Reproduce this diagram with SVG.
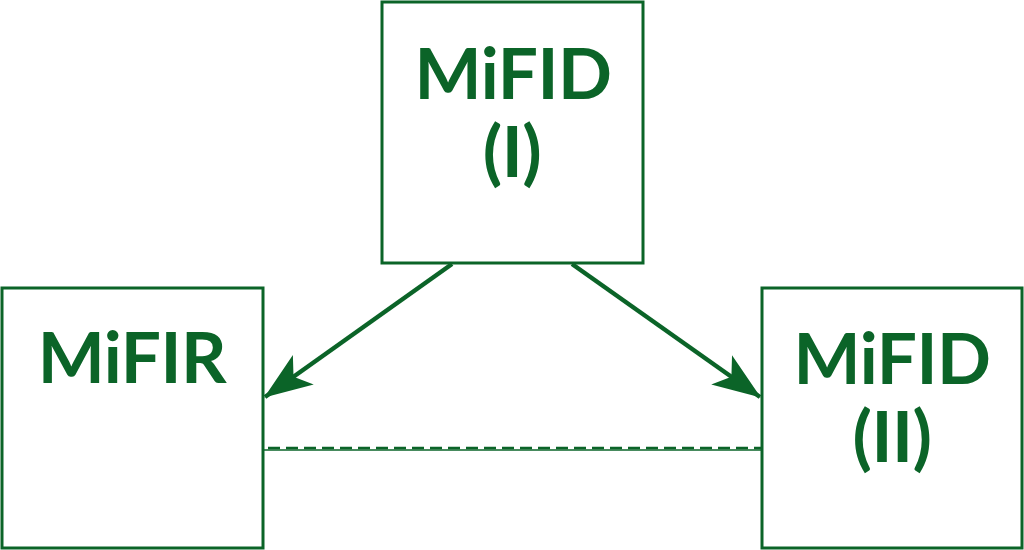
<svg xmlns="http://www.w3.org/2000/svg" width="1024" height="550" viewBox="0 0 1024 550">
<style>
.box{fill:#fff;stroke:#0b6428;stroke-width:3}
.t{font-family:Lato,"Open Sans",sans-serif;font-weight:bold;font-size:71px;fill:#0b6428;text-anchor:middle;letter-spacing:-0.5px}
.arr{stroke:#0b6428;stroke-width:4.5;fill:none}
</style>
<defs>
<marker id="ah" viewBox="0 0 48 36" refX="47" refY="18" markerWidth="48" markerHeight="36" markerUnits="userSpaceOnUse" orient="auto">
<path d="M0,0 L48,18 L0,36 L12,18 Z" fill="#0b6428"/>
</marker>
</defs>
<rect width="1024" height="550" fill="#fff"/>
<g id="mifid1"><rect class="box" x="382" y="2" width="261" height="261"/><text class="t" x="513" y="99">MiFID</text><text class="t" x="512" y="177">(I)</text></g>
<g id="mifir"><rect class="box" x="2" y="288" width="261" height="260"/><text class="t" x="132" y="383">MiFIR</text></g>
<g id="mifid2"><rect class="box" x="762" y="288" width="260" height="260"/><text class="t" x="892" y="384">MiFID</text><text class="t" x="892" y="462">(II)</text></g>
<g id="connectors">
<line class="arr" x1="452" y1="264" x2="265" y2="397" marker-end="url(#ah)"/>
<line class="arr" x1="572" y1="264" x2="760" y2="397" marker-end="url(#ah)"/>
<line x1="264" y1="450" x2="761" y2="450" stroke="#0b6428" stroke-width="1.5"/>
<line x1="268" y1="448" x2="761" y2="448" stroke="#0b6428" stroke-width="2.5" stroke-dasharray="12 6"/>
</g>
</svg>
